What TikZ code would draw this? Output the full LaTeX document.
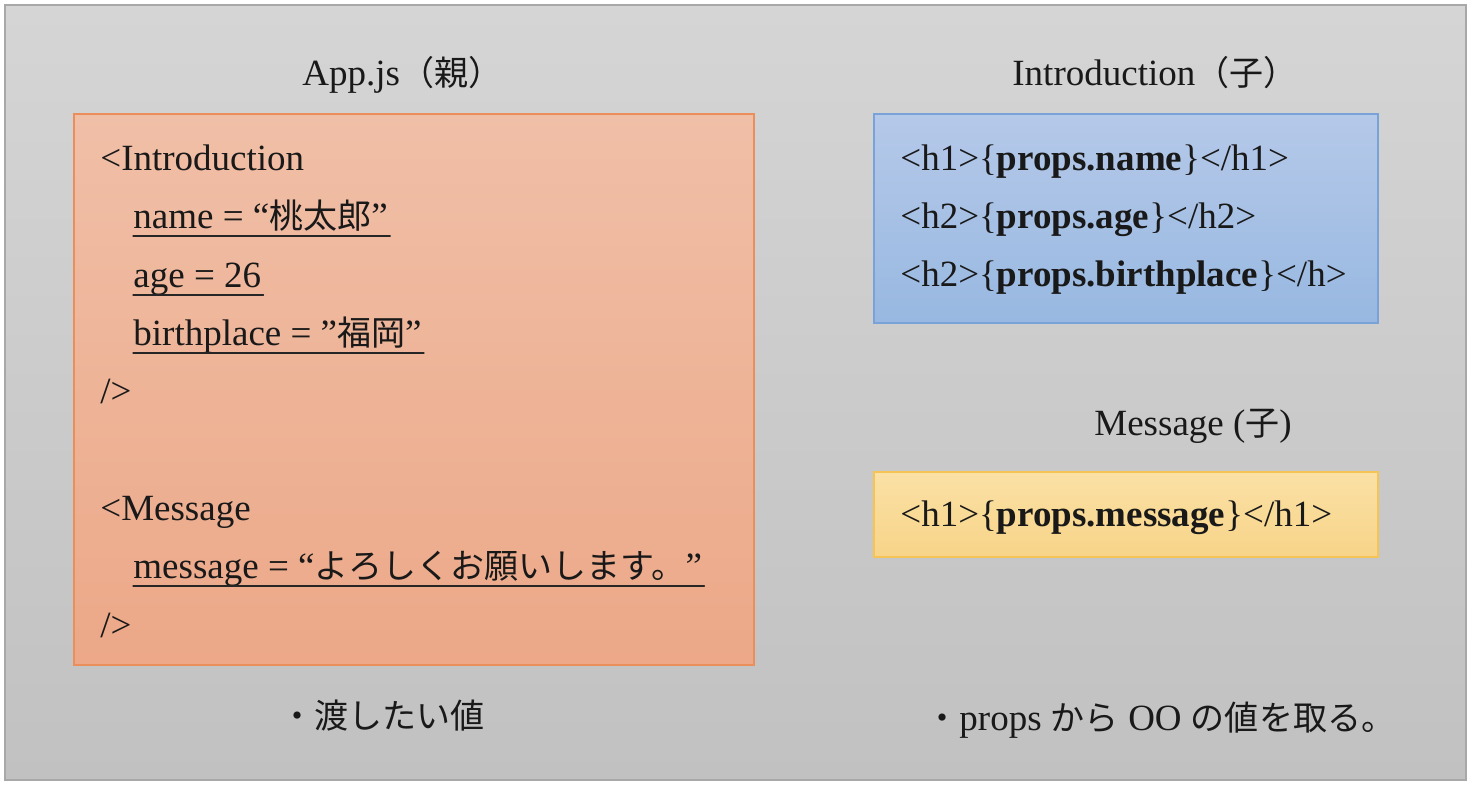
\documentclass[tikz,border=0pt]{standalone}
\usepackage{fontspec}
\setmainfont{Liberation Serif}
\newfontfamily\jp[Scale=0.92]{Noto Sans CJK JP}
\usepackage{xcolor}
\definecolor{bgtop}{RGB}{213,213,213}
\definecolor{bgbot}{RGB}{193,193,193}
\definecolor{bgline}{RGB}{168,168,168}
\definecolor{apptop}{RGB}{240,191,167}
\definecolor{appbot}{RGB}{236,168,136}
\definecolor{appline}{RGB}{234,142,92}
\definecolor{introtop}{RGB}{181,201,233}
\definecolor{introbot}{RGB}{152,184,225}
\definecolor{introline}{RGB}{120,162,216}
\definecolor{msgtop}{RGB}{251,225,166}
\definecolor{msgbot}{RGB}{247,212,136}
\definecolor{msgline}{RGB}{245,196,84}
\usepackage{tikz}
\usetikzlibrary{calc}
\newcommand{\codefont}{\fontsize{18.5}{22}\selectfont}

\begin{document}
\begin{tikzpicture}[x=0.5pt,y=-0.5pt,line cap=round]
	\tikzstyle{code}=[anchor=base west,inner sep=0pt,text=black!90,font=\codefont];
	\tikzstyle{box}=[line width=0.75pt];
	%%
	\useasboundingbox (0,0) rectangle (1472,790);
	\coordinate (P1) at (5,5);
	\coordinate (P2) at (1466,780);
	\coordinate (A1) at (74,114);
	\coordinate (A2) at (754,665);
	\coordinate (B1) at (874,114);
	\coordinate (B2) at (1378,323);
	\coordinate (C1) at (874,472);
	\coordinate (C2) at (1378,557);
	%%
	\path[box,top color=bgtop,bottom color=bgbot,draw=bgline] (P1) rectangle (P2);
	\path[box,top color=apptop,bottom color=appbot,draw=appline] (A1) rectangle (A2);
	\path[box,top color=introtop,bottom color=introbot,draw=introline] (B1) rectangle (B2);
	\path[box,top color=msgtop,bottom color=msgbot,draw=msgline] (C1) rectangle (C2);
	%%
	\node[code] (tapp)   at (302,86)  {App.js{\jp （親）}};
	\node[code] (tintro) at (1012,86) {Introduction{\jp （子）}};
	\node[code] (tmsg)   at (1094,436) {Message ({\jp 子})};
	%%
	\node[code] (l1) at (100,171) {<Introduction};
	\node[code] (l2) at (133,229) {name = “{\jp 桃太郎}”};
	\node[code] (l3) at (133,288) {age = 26};
	\node[code] (l4) at (133,346) {birthplace = ”{\jp 福岡}”};
	\node[code] (l5) at (100,404) {/>};
	\node[code] (l6) at (100,521) {<Message};
	\node[code] (l7) at (133,579) {message = “{\jp よろしくお願いします。}”};
	\node[code] (l8) at (100,638) {/>};
	\foreach \u in {l2,l3,l4,l7}
		\draw[line width=0.6pt,black!85] ($(\u.base west)+(0,7)$) -- ($(\u.base east)+(2,7)$);
	%%
	\node[code] (c1) at (900,171) {<h1>\{\textbf{props.name}\}</h1>};
	\node[code] (c2) at (900,229) {<h2>\{\textbf{props.age}\}</h2>};
	\node[code] (c3) at (900,287) {<h2>\{\textbf{props.birthplace}\}</h>};
	\node[code] (d1) at (900,527) {<h1>\{\textbf{props.message}\}</h1>};
	%%
	\node[code] (n1) at (280,728) {{\jp ・渡したい値}};
	\node[code] (n2) at (925,730) {{\jp ・}props {\jp から} OO {\jp の値を取る。}};
\end{tikzpicture}
\end{document}
